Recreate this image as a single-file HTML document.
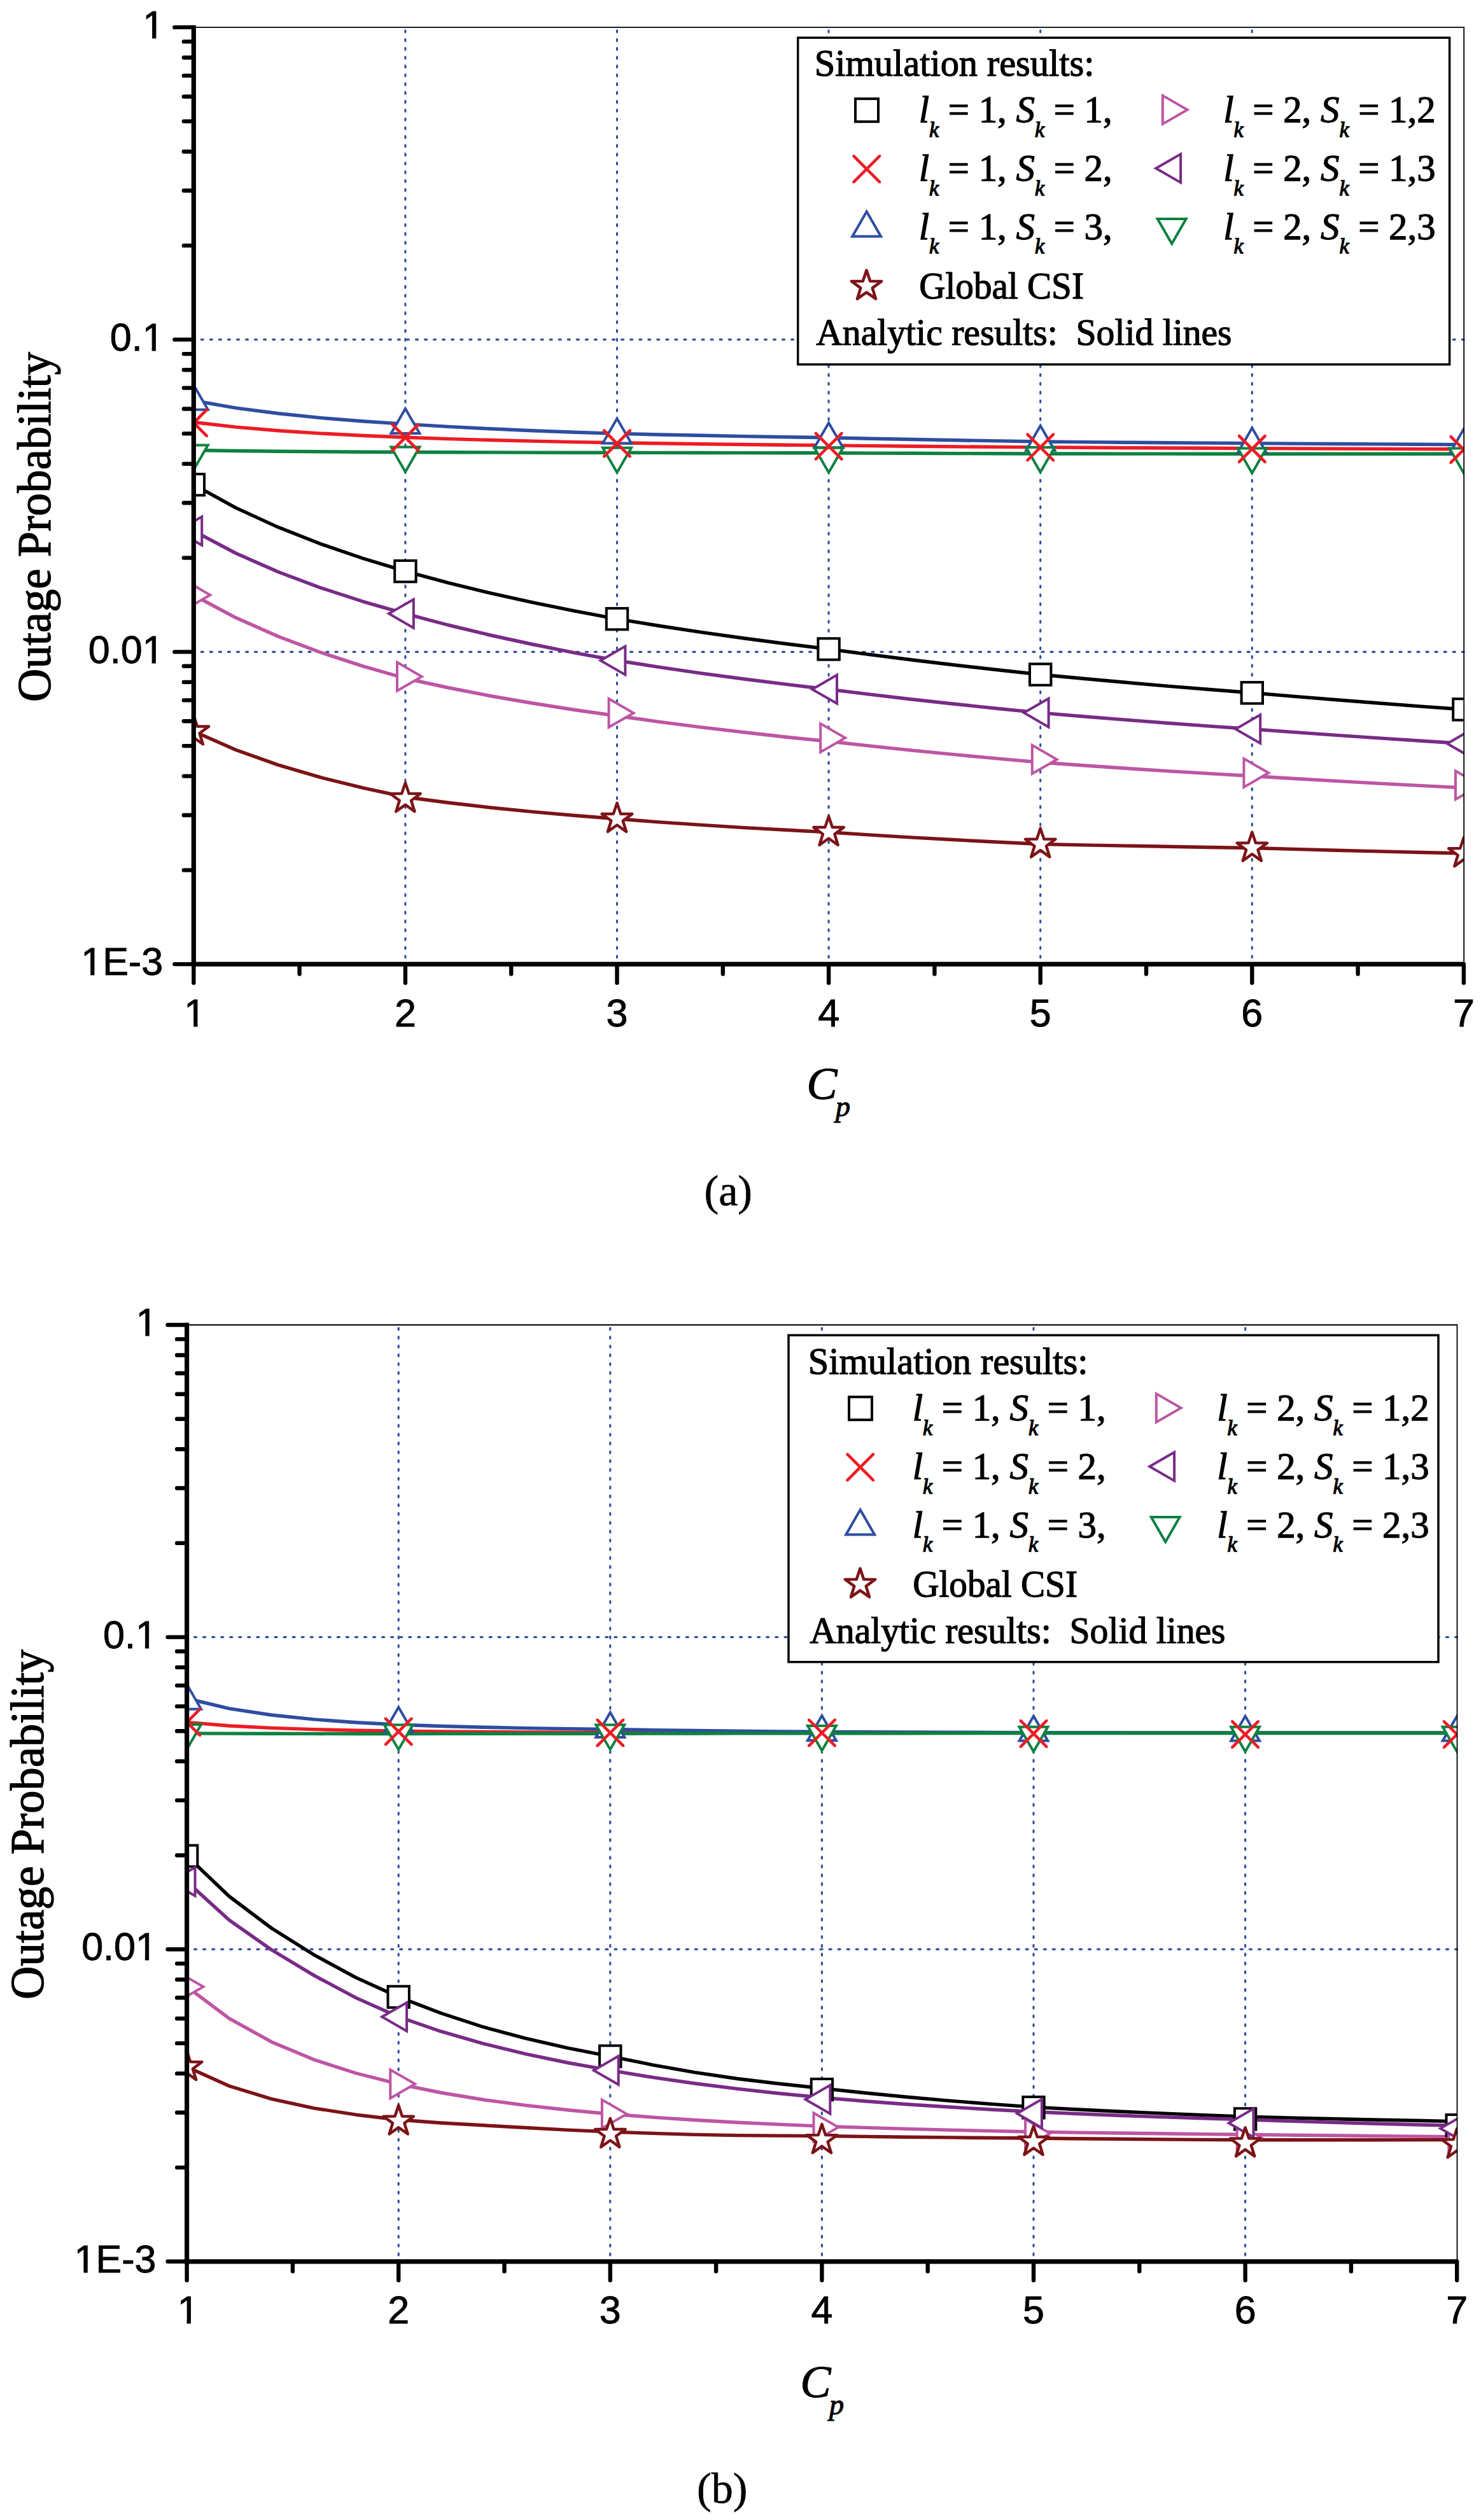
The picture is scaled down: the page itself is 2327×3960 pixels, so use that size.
<!DOCTYPE html>
<html lang="en"><head><meta charset="utf-8"><title>Outage Probability vs Cp</title>
<style>html,body{margin:0;padding:0;background:#fff}svg{display:block}</style></head><body>
<svg width="2327" height="3960" viewBox="0 0 2327 3960">
<rect width="2327" height="3960" fill="#fff"/>
<clipPath id="clip0"><rect x="304.3" y="42.9" width="1995.9" height="1472.2"/></clipPath>
<g stroke="#2e4da1" stroke-width="3.1" fill="none" stroke-linecap="round" stroke-dasharray="2.9 10.95">
<path d="M636.9 47.7V1515.1"/>
<path d="M969.5 47.7V1515.1"/>
<path d="M1302.1 47.7V1515.1"/>
<path d="M1634.7 47.7V1515.1"/>
<path d="M1967.3 47.7V1515.1"/>
</g>
<g stroke="#2e4da1" stroke-width="3.3" fill="none" stroke-linecap="round" stroke-dasharray="2.9 11.15">
<path d="M316.3 533.6H2300.2"/>
<path d="M316.3 1024.4H2300.2"/>
</g>
<g clip-path="url(#clip0)" fill="none" stroke-width="5.4" stroke-linejoin="round">
<path d="M304.3 761.6L370.8 798.1L437.3 828.6L503.9 854.7L570.4 877.5L636.9 897.7L703.4 915.7L769.9 931.9L836.5 946.6L903.0 960.1L969.5 972.6L1036.0 983.5L1102.5 993.6L1169.1 1003.0L1235.6 1011.8L1302.1 1020.0L1368.6 1028.9L1435.1 1037.3L1501.7 1045.2L1568.2 1052.8L1634.7 1060.0L1701.2 1066.3L1767.7 1072.3L1834.3 1078.1L1900.8 1083.5L1967.3 1088.8L2033.8 1094.4L2100.3 1099.8L2166.9 1105.0L2233.4 1110.1L2299.9 1114.9" stroke="#000000"/>
<path d="M304.3 663.5L370.8 671.1L437.3 676.8L503.9 681.1L570.4 684.5L636.9 687.3L703.4 689.6L769.9 691.5L836.5 693.1L903.0 694.6L969.5 695.8L1036.0 696.8L1102.5 697.7L1169.1 698.5L1235.6 699.2L1302.1 699.9L1368.6 700.6L1435.1 701.3L1501.7 701.9L1568.2 702.4L1634.7 702.9L1701.2 703.3L1767.7 703.7L1834.3 704.0L1900.8 704.3L1967.3 704.6L2033.8 704.9L2100.3 705.1L2166.9 705.4L2233.4 705.6L2299.9 705.8" stroke="#ec1c24"/>
<path d="M304.3 629.5L370.8 641.1L437.3 649.8L503.9 656.6L570.4 662.0L636.9 666.4L703.4 670.4L769.9 673.8L836.5 676.7L903.0 679.2L969.5 681.4L1036.0 683.0L1102.5 684.3L1169.1 685.6L1235.6 686.7L1302.1 687.7L1368.6 689.2L1435.1 690.5L1501.7 691.8L1568.2 692.9L1634.7 694.0L1701.2 694.6L1767.7 695.2L1834.3 695.7L1900.8 696.1L1967.3 696.6L2033.8 697.1L2100.3 697.5L2166.9 697.9L2233.4 698.3L2299.9 698.7" stroke="#2e4da1"/>
<path d="M304.3 935.5L370.8 970.8L437.3 1000.2L503.9 1025.2L570.4 1046.9L636.9 1066.0L703.4 1080.5L769.9 1093.5L836.5 1105.0L903.0 1115.5L969.5 1125.0L1036.0 1134.3L1102.5 1142.9L1169.1 1150.8L1235.6 1158.2L1302.1 1165.0L1368.6 1172.4L1435.1 1179.4L1501.7 1185.9L1568.2 1192.1L1634.7 1198.0L1701.2 1202.8L1767.7 1207.3L1834.3 1211.6L1900.8 1215.6L1967.3 1219.5L2033.8 1223.5L2100.3 1227.4L2166.9 1231.1L2233.4 1234.6L2299.9 1238.0" stroke="#bd56a3"/>
<path d="M304.3 834.3L370.8 869.5L437.3 898.7L503.9 923.7L570.4 945.3L636.9 964.3L703.4 982.0L769.9 998.0L836.5 1012.5L903.0 1025.8L969.5 1038.0L1036.0 1048.4L1102.5 1058.1L1169.1 1067.0L1235.6 1075.4L1302.1 1083.2L1368.6 1091.4L1435.1 1099.2L1501.7 1106.5L1568.2 1113.5L1634.7 1120.1L1701.2 1125.7L1767.7 1131.1L1834.3 1136.2L1900.8 1141.1L1967.3 1145.7L2033.8 1150.6L2100.3 1155.4L2166.9 1159.9L2233.4 1164.3L2299.9 1168.5" stroke="#782b86"/>
<path d="M304.3 707.5L370.8 708.5L437.3 709.2L503.9 709.7L570.4 710.2L636.9 710.5L703.4 710.7L769.9 710.9L836.5 711.1L903.0 711.2L969.5 711.3L1036.0 711.4L1102.5 711.5L1169.1 711.6L1235.6 711.7L1302.1 711.8L1368.6 712.1L1435.1 712.3L1501.7 712.6L1568.2 712.8L1634.7 713.0L1701.2 713.0L1767.7 713.1L1834.3 713.1L1900.8 713.2L1967.3 713.2L2033.8 713.2L2100.3 713.2L2166.9 713.2L2233.4 713.2L2299.9 713.2" stroke="#0d8140"/>
<path d="M304.3 1149.3L370.8 1178.5L437.3 1202.1L503.9 1221.7L570.4 1238.2L636.9 1252.5L703.4 1261.3L769.9 1269.0L836.5 1275.6L903.0 1281.5L969.5 1286.8L1036.0 1291.9L1102.5 1296.4L1169.1 1300.6L1235.6 1304.3L1302.1 1307.8L1368.6 1312.1L1435.1 1316.1L1501.7 1319.8L1568.2 1323.3L1634.7 1326.5L1701.2 1327.9L1767.7 1329.1L1834.3 1330.3L1900.8 1331.5L1967.3 1332.5L2033.8 1334.4L2100.3 1336.2L2166.9 1337.9L2233.4 1339.5L2299.9 1341.0" stroke="#7c1317"/>
</g>
<g clip-path="url(#clip0)">
<rect x="287.6" y="744.9" width="33.4" height="33.4" stroke="#000000" stroke-width="4.0" fill="#fff"/>
<rect x="620.2" y="881.0" width="33.4" height="33.4" stroke="#000000" stroke-width="4.0" fill="#fff"/>
<rect x="952.8" y="955.9" width="33.4" height="33.4" stroke="#000000" stroke-width="4.0" fill="#fff"/>
<rect x="1285.4" y="1003.3" width="33.4" height="33.4" stroke="#000000" stroke-width="4.0" fill="#fff"/>
<rect x="1618.0" y="1043.3" width="33.4" height="33.4" stroke="#000000" stroke-width="4.0" fill="#fff"/>
<rect x="1950.6" y="1072.1" width="33.4" height="33.4" stroke="#000000" stroke-width="4.0" fill="#fff"/>
<rect x="2283.2" y="1098.2" width="33.4" height="33.4" stroke="#000000" stroke-width="4.0" fill="#fff"/>
<path d="M304.3 604.9L281.9 643.7L326.7 643.7Z" stroke="#2e4da1" stroke-width="4.0" fill="#fff" stroke-linejoin="miter"/>
<path d="M636.9 642.3L614.5 681.1L659.3 681.1Z" stroke="#2e4da1" stroke-width="4.0" fill="#fff" stroke-linejoin="miter"/>
<path d="M969.5 657.8L947.1 696.6L991.9 696.6Z" stroke="#2e4da1" stroke-width="4.0" fill="#fff" stroke-linejoin="miter"/>
<path d="M1302.1 664.4L1279.7 703.2L1324.5 703.2Z" stroke="#2e4da1" stroke-width="4.0" fill="#fff" stroke-linejoin="miter"/>
<path d="M1634.7 669.0L1612.3 707.8L1657.1 707.8Z" stroke="#2e4da1" stroke-width="4.0" fill="#fff" stroke-linejoin="miter"/>
<path d="M1967.3 672.6L1944.9 711.4L1989.7 711.4Z" stroke="#2e4da1" stroke-width="4.0" fill="#fff" stroke-linejoin="miter"/>
<path d="M2299.9 674.2L2277.5 713.0L2322.3 713.0Z" stroke="#2e4da1" stroke-width="4.0" fill="#fff" stroke-linejoin="miter"/>
<path d="M330.2 935.0L291.4 912.6L291.4 957.4Z" stroke="#bd56a3" stroke-width="4.0" fill="#fff" stroke-linejoin="miter"/>
<path d="M662.8 1063.2L624.0 1040.8L624.0 1085.6Z" stroke="#bd56a3" stroke-width="4.0" fill="#fff" stroke-linejoin="miter"/>
<path d="M995.4 1120.4L956.6 1098.0L956.6 1142.8Z" stroke="#bd56a3" stroke-width="4.0" fill="#fff" stroke-linejoin="miter"/>
<path d="M1328.0 1159.5L1289.2 1137.1L1289.2 1181.9Z" stroke="#bd56a3" stroke-width="4.0" fill="#fff" stroke-linejoin="miter"/>
<path d="M1660.6 1193.4L1621.8 1171.0L1621.8 1215.8Z" stroke="#bd56a3" stroke-width="4.0" fill="#fff" stroke-linejoin="miter"/>
<path d="M1993.2 1214.6L1954.4 1192.2L1954.4 1237.0Z" stroke="#bd56a3" stroke-width="4.0" fill="#fff" stroke-linejoin="miter"/>
<path d="M2325.8 1233.8L2287.0 1211.4L2287.0 1256.2Z" stroke="#bd56a3" stroke-width="4.0" fill="#fff" stroke-linejoin="miter"/>
<path d="M278.4 834.3L317.2 811.9L317.2 856.7Z" stroke="#782b86" stroke-width="4.0" fill="#fff" stroke-linejoin="miter"/>
<path d="M611.0 964.3L649.8 941.9L649.8 986.7Z" stroke="#782b86" stroke-width="4.0" fill="#fff" stroke-linejoin="miter"/>
<path d="M943.6 1038.0L982.4 1015.6L982.4 1060.4Z" stroke="#782b86" stroke-width="4.0" fill="#fff" stroke-linejoin="miter"/>
<path d="M1276.2 1083.2L1315.0 1060.8L1315.0 1105.6Z" stroke="#782b86" stroke-width="4.0" fill="#fff" stroke-linejoin="miter"/>
<path d="M1608.8 1120.1L1647.6 1097.7L1647.6 1142.5Z" stroke="#782b86" stroke-width="4.0" fill="#fff" stroke-linejoin="miter"/>
<path d="M1941.4 1145.7L1980.2 1123.3L1980.2 1168.1Z" stroke="#782b86" stroke-width="4.0" fill="#fff" stroke-linejoin="miter"/>
<path d="M2274.0 1168.5L2312.8 1146.1L2312.8 1190.9Z" stroke="#782b86" stroke-width="4.0" fill="#fff" stroke-linejoin="miter"/>
<path d="M304.3 738.2L281.9 699.4L326.7 699.4Z" stroke="#0d8140" stroke-width="4.0" fill="#fff" stroke-linejoin="miter"/>
<path d="M636.9 741.4L614.5 702.6L659.3 702.6Z" stroke="#0d8140" stroke-width="4.0" fill="#fff" stroke-linejoin="miter"/>
<path d="M969.5 742.5L947.1 703.7L991.9 703.7Z" stroke="#0d8140" stroke-width="4.0" fill="#fff" stroke-linejoin="miter"/>
<path d="M1302.1 742.5L1279.7 703.7L1324.5 703.7Z" stroke="#0d8140" stroke-width="4.0" fill="#fff" stroke-linejoin="miter"/>
<path d="M1634.7 741.9L1612.3 703.1L1657.1 703.1Z" stroke="#0d8140" stroke-width="4.0" fill="#fff" stroke-linejoin="miter"/>
<path d="M1967.3 743.4L1944.9 704.6L1989.7 704.6Z" stroke="#0d8140" stroke-width="4.0" fill="#fff" stroke-linejoin="miter"/>
<path d="M2299.9 743.4L2277.5 704.6L2322.3 704.6Z" stroke="#0d8140" stroke-width="4.0" fill="#fff" stroke-linejoin="miter"/>
<path d="M281.9 642.1L285.2 642.1L326.7 683.5L326.7 686.9L323.4 686.9L281.9 645.5ZM281.9 683.5L323.4 642.1L326.7 642.1L326.7 645.5L285.2 686.9L281.9 686.9Z" fill="#ec1c24"/>
<path d="M614.6 665.1L617.9 665.1L659.3 706.5L659.3 709.9L656.0 709.9L614.6 668.5ZM614.6 706.5L656.0 665.1L659.3 665.1L659.3 668.5L617.9 709.9L614.6 709.9Z" fill="#ec1c24"/>
<path d="M947.1 674.5L950.5 674.5L991.9 715.9L991.9 719.2L988.5 719.2L947.1 677.9ZM947.1 715.9L988.5 674.5L991.9 674.5L991.9 677.9L950.5 719.2L947.1 719.2Z" fill="#ec1c24"/>
<path d="M1279.8 678.9L1283.1 678.9L1324.5 720.3L1324.5 723.6L1321.2 723.6L1279.8 682.2ZM1279.8 720.3L1321.2 678.9L1324.5 678.9L1324.5 682.2L1283.1 723.6L1279.8 723.6Z" fill="#ec1c24"/>
<path d="M1612.4 680.5L1615.7 680.5L1657.0 721.9L1657.0 725.2L1653.8 725.2L1612.4 683.9ZM1612.4 721.9L1653.8 680.5L1657.0 680.5L1657.0 683.9L1615.7 725.2L1612.4 725.2Z" fill="#ec1c24"/>
<path d="M1945.0 683.1L1948.2 683.1L1989.6 724.5L1989.6 727.9L1986.3 727.9L1945.0 686.5ZM1945.0 724.5L1986.3 683.1L1989.6 683.1L1989.6 686.5L1948.2 727.9L1945.0 727.9Z" fill="#ec1c24"/>
<path d="M2277.6 684.1L2280.8 684.1L2322.2 725.5L2322.2 728.9L2319.0 728.9L2277.6 687.5ZM2277.6 725.5L2319.0 684.1L2322.2 684.1L2322.2 687.5L2280.8 728.9L2277.6 728.9Z" fill="#ec1c24"/>
<path d="M304.3 1124.4L310.0 1141.4L328.0 1141.6L313.5 1152.3L318.9 1169.4L304.3 1159.0L289.7 1169.4L295.1 1152.3L280.6 1141.6L298.6 1141.4Z" stroke="#7c1317" stroke-width="4.5" fill="#fff" stroke-linejoin="round"/>
<path d="M636.9 1230.1L642.6 1247.1L660.6 1247.3L646.1 1258.0L651.5 1275.1L636.9 1264.7L622.3 1275.1L627.7 1258.0L613.2 1247.3L631.2 1247.1Z" stroke="#7c1317" stroke-width="4.5" fill="#fff" stroke-linejoin="round"/>
<path d="M969.5 1261.9L975.2 1278.9L993.2 1279.1L978.7 1289.8L984.1 1306.9L969.5 1296.5L954.9 1306.9L960.3 1289.8L945.8 1279.1L963.8 1278.9Z" stroke="#7c1317" stroke-width="4.5" fill="#fff" stroke-linejoin="round"/>
<path d="M1302.1 1282.9L1307.8 1299.9L1325.8 1300.1L1311.3 1310.8L1316.7 1327.9L1302.1 1317.5L1287.5 1327.9L1292.9 1310.8L1278.4 1300.1L1296.4 1299.9Z" stroke="#7c1317" stroke-width="4.5" fill="#fff" stroke-linejoin="round"/>
<path d="M1634.7 1301.6L1640.4 1318.6L1658.4 1318.8L1643.9 1329.5L1649.3 1346.6L1634.7 1336.2L1620.1 1346.6L1625.5 1329.5L1611.0 1318.8L1629.0 1318.6Z" stroke="#7c1317" stroke-width="4.5" fill="#fff" stroke-linejoin="round"/>
<path d="M1967.3 1307.6L1973.0 1324.6L1991.0 1324.8L1976.5 1335.5L1981.9 1352.6L1967.3 1342.2L1952.7 1352.6L1958.1 1335.5L1943.6 1324.8L1961.6 1324.6Z" stroke="#7c1317" stroke-width="4.5" fill="#fff" stroke-linejoin="round"/>
<path d="M2299.9 1316.1L2305.6 1333.1L2323.6 1333.3L2309.1 1344.0L2314.5 1361.1L2299.9 1350.7L2285.3 1361.1L2290.7 1344.0L2276.2 1333.3L2294.2 1333.1Z" stroke="#7c1317" stroke-width="4.5" fill="#fff" stroke-linejoin="round"/>
</g>
<path d="M304.3 42.9H2300.2V1515.1" stroke="#000" stroke-width="1.8" fill="none"/>
<g stroke="#000" stroke-width="7.2" fill="none" stroke-linecap="butt">
<path d="M304.3 39.7V1518.7"/>
<path d="M300.7 1515.1H2301.0"/>
</g>
<g stroke="#000" stroke-width="6.4" fill="none" stroke-linecap="round">
<path d="M274.3 42.9H304.3"/>
<path d="M288.8 385.9H304.3"/>
<path d="M288.8 299.5H304.3"/>
<path d="M288.8 238.2H304.3"/>
<path d="M288.8 190.6H304.3"/>
<path d="M288.8 151.8H304.3"/>
<path d="M288.8 118.9H304.3"/>
<path d="M288.8 90.5H304.3"/>
<path d="M288.8 65.4H304.3"/>
<path d="M274.3 533.6H304.3"/>
<path d="M288.8 876.6H304.3"/>
<path d="M288.8 790.2H304.3"/>
<path d="M288.8 728.9H304.3"/>
<path d="M288.8 681.4H304.3"/>
<path d="M288.8 642.5H304.3"/>
<path d="M288.8 609.6H304.3"/>
<path d="M288.8 581.2H304.3"/>
<path d="M288.8 556.1H304.3"/>
<path d="M274.3 1024.4H304.3"/>
<path d="M288.8 1367.4H304.3"/>
<path d="M288.8 1281.0H304.3"/>
<path d="M288.8 1219.6H304.3"/>
<path d="M288.8 1172.1H304.3"/>
<path d="M288.8 1133.2H304.3"/>
<path d="M288.8 1100.4H304.3"/>
<path d="M288.8 1071.9H304.3"/>
<path d="M288.8 1046.8H304.3"/>
<path d="M274.3 1515.1H304.3"/>
<path d="M304.3 1515.1V1544.6"/>
<path d="M470.6 1515.1V1530.6"/>
<path d="M636.9 1515.1V1544.6"/>
<path d="M803.2 1515.1V1530.6"/>
<path d="M969.5 1515.1V1544.6"/>
<path d="M1135.8 1515.1V1530.6"/>
<path d="M1302.1 1515.1V1544.6"/>
<path d="M1468.4 1515.1V1530.6"/>
<path d="M1634.7 1515.1V1544.6"/>
<path d="M1801.0 1515.1V1530.6"/>
<path d="M1967.3 1515.1V1544.6"/>
<path d="M2133.6 1515.1V1530.6"/>
<path d="M2299.9 1515.1V1544.6"/>
</g>
<g font-family="'Liberation Sans', sans-serif" font-size="61" fill="#000" stroke="#000" stroke-width="0.9">
<text x="258.1" y="60.1" text-anchor="end">1</text>
<text x="257.6" y="550.8" text-anchor="end">0.1</text>
<text x="257.6" y="1041.6" text-anchor="end">0.01</text>
<text x="256.1" y="1532.3" text-anchor="end">1E-3</text>
<text x="306.3" y="1612.5" text-anchor="middle">1</text>
<text x="636.9" y="1612.5" text-anchor="middle">2</text>
<text x="969.5" y="1612.5" text-anchor="middle">3</text>
<text x="1302.1" y="1612.5" text-anchor="middle">4</text>
<text x="1634.7" y="1612.5" text-anchor="middle">5</text>
<text x="1967.3" y="1612.5" text-anchor="middle">6</text>
<text x="2299.9" y="1612.5" text-anchor="middle">7</text>
</g>
<g fill="#fff"><rect x="227.02" y="54.69" width="12.04" height="7.46"/><rect x="245.36" y="54.69" width="11.57" height="7.46"/><rect x="226.52" y="545.43" width="12.04" height="7.46"/><rect x="244.86" y="545.43" width="11.57" height="7.46"/><rect x="226.52" y="1036.16" width="12.04" height="7.46"/><rect x="244.86" y="1036.16" width="11.57" height="7.46"/><rect x="130.10" y="1526.89" width="12.04" height="7.46"/><rect x="148.43" y="1526.89" width="11.57" height="7.46"/><rect x="292.18" y="1607.09" width="12.04" height="7.46"/><rect x="310.52" y="1607.09" width="11.57" height="7.46"/></g>
<text transform="translate(78.5 828.0) rotate(-90)" text-anchor="middle" font-family="'Liberation Serif', serif" font-size="75" stroke="#000" stroke-width="1.3" textLength="550" lengthAdjust="spacingAndGlyphs">Outage Probability</text>
<text x="1267.5" y="1726.5" font-family="'Liberation Serif', serif" font-style="italic" font-size="72" stroke="#000" stroke-width="1.1">C<tspan font-size="46" dx="-2.5" dy="27.8">p</tspan></text>
<text x="1106.5" y="1894" font-family="'Liberation Serif', serif" font-size="68" stroke="#000" stroke-width="0.7">(a)</text>
<rect x="1253.7" y="59.3" width="1023.9" height="513.4" fill="#fff" stroke="#000" stroke-width="3.5"/>
<g font-family="'Liberation Serif', serif" font-size="60" fill="#000" stroke="#000" stroke-width="1.25">
<text transform="translate(1279.7 118.8) scale(0.9738 1)">Simulation results:</text>
<text transform="translate(1443.7 192.2) scale(0.9806 1)"><tspan font-style="italic">l</tspan><tspan font-style="italic" font-size="34.5" dy="22.3">k</tspan><tspan dy="-22.3"> = 1, </tspan><tspan font-style="italic">S</tspan><tspan font-style="italic" font-size="34.5" dy="22.3">k</tspan><tspan dy="-22.3"> = 1,</tspan></text>
<text transform="translate(1443.7 284.2) scale(0.9806 1)"><tspan font-style="italic">l</tspan><tspan font-style="italic" font-size="34.5" dy="22.3">k</tspan><tspan dy="-22.3"> = 1, </tspan><tspan font-style="italic">S</tspan><tspan font-style="italic" font-size="34.5" dy="22.3">k</tspan><tspan dy="-22.3"> = 2,</tspan></text>
<text transform="translate(1443.7 376.0) scale(0.9806 1)"><tspan font-style="italic">l</tspan><tspan font-style="italic" font-size="34.5" dy="22.3">k</tspan><tspan dy="-22.3"> = 1, </tspan><tspan font-style="italic">S</tspan><tspan font-style="italic" font-size="34.5" dy="22.3">k</tspan><tspan dy="-22.3"> = 3,</tspan></text>
<text transform="translate(1922.2 192.2) scale(0.9806 1)"><tspan font-style="italic">l</tspan><tspan font-style="italic" font-size="34.5" dy="22.3">k</tspan><tspan dy="-22.3"> = 2, </tspan><tspan font-style="italic">S</tspan><tspan font-style="italic" font-size="34.5" dy="22.3">k</tspan><tspan dy="-22.3"> = 1,2</tspan></text>
<text transform="translate(1922.2 284.2) scale(0.9806 1)"><tspan font-style="italic">l</tspan><tspan font-style="italic" font-size="34.5" dy="22.3">k</tspan><tspan dy="-22.3"> = 2, </tspan><tspan font-style="italic">S</tspan><tspan font-style="italic" font-size="34.5" dy="22.3">k</tspan><tspan dy="-22.3"> = 1,3</tspan></text>
<text transform="translate(1922.2 376.0) scale(0.9806 1)"><tspan font-style="italic">l</tspan><tspan font-style="italic" font-size="34.5" dy="22.3">k</tspan><tspan dy="-22.3"> = 2, </tspan><tspan font-style="italic">S</tspan><tspan font-style="italic" font-size="34.5" dy="22.3">k</tspan><tspan dy="-22.3"> = 2,3</tspan></text>
<text transform="translate(1444.2 469.0) scale(0.9525 1)">Global CSI</text>
<text transform="translate(1282.2 541.8) scale(0.9612 1)" xml:space="preserve" style="white-space:pre">Analytic results:  Solid lines</text>
</g>
<rect x="1344.0" y="155.2" width="36.0" height="36.0" stroke="#000000" stroke-width="4.0" fill="#fff"/>
<path d="M1339.4 243.3L1342.7 243.3L1384.0 284.7L1384.0 288.0L1380.8 288.0L1339.4 246.6ZM1339.4 284.7L1380.8 243.3L1384.0 243.3L1384.0 246.6L1342.7 288.0L1339.4 288.0Z" fill="#ec1c24"/>
<path d="M1361.7 332.6L1339.3 371.4L1384.1 371.4Z" stroke="#2e4da1" stroke-width="4.0" fill="#fff" stroke-linejoin="miter"/>
<path d="M1361.5 424.7L1367.2 441.7L1385.2 441.9L1370.7 452.6L1376.1 469.7L1361.5 459.3L1346.9 469.7L1352.3 452.6L1337.8 441.9L1355.8 441.7Z" stroke="#7c1317" stroke-width="4.5" fill="#fff" stroke-linejoin="round"/>
<path d="M1865.6 172.5L1826.8 150.1L1826.8 194.9Z" stroke="#bd56a3" stroke-width="4.0" fill="#fff" stroke-linejoin="miter"/>
<path d="M1816.3 264.5L1855.1 242.1L1855.1 286.9Z" stroke="#782b86" stroke-width="4.0" fill="#fff" stroke-linejoin="miter"/>
<path d="M1841.2 382.9L1818.8 344.1L1863.6 344.1Z" stroke="#0d8140" stroke-width="4.0" fill="#fff" stroke-linejoin="miter"/>
<clipPath id="clip1"><rect x="293.6" y="2082" width="1995.9" height="1471.8"/></clipPath>
<g stroke="#2e4da1" stroke-width="3.1" fill="none" stroke-linecap="round" stroke-dasharray="2.9 10.95">
<path d="M626.2 2086.8V3553.8"/>
<path d="M958.8 2086.8V3553.8"/>
<path d="M1291.4 2086.8V3553.8"/>
<path d="M1624.0 2086.8V3553.8"/>
<path d="M1956.6 2086.8V3553.8"/>
</g>
<g stroke="#2e4da1" stroke-width="3.3" fill="none" stroke-linecap="round" stroke-dasharray="2.9 11.15">
<path d="M305.6 2572.6H2289.5"/>
<path d="M305.6 3063.2H2289.5"/>
</g>
<g clip-path="url(#clip1)" fill="none" stroke-width="5.4" stroke-linejoin="round">
<path d="M293.6 2916.5L360.1 2980.0L426.6 3030.0L493.2 3071.8L559.7 3107.9L626.2 3138.0L692.7 3163.5L759.2 3185.2L825.8 3203.2L892.3 3218.3L958.8 3231.3L1025.3 3244.8L1091.8 3256.7L1158.4 3266.5L1224.9 3274.5L1291.4 3281.6L1357.9 3288.8L1424.4 3295.3L1491.0 3301.1L1557.5 3306.4L1624.0 3311.1L1690.5 3314.7L1757.0 3318.0L1823.6 3320.9L1890.1 3323.6L1956.6 3326.1L2023.1 3327.9L2089.6 3329.5L2156.2 3331.0L2222.7 3332.3L2289.2 3333.6" stroke="#000000"/>
<path d="M293.6 2706.4L360.1 2712.0L426.6 2715.4L493.2 2717.6L559.7 2719.2L626.2 2720.3L692.7 2721.0L759.2 2721.5L825.8 2721.9L892.3 2722.2L958.8 2722.5L1025.3 2722.6L1091.8 2722.8L1158.4 2722.8L1224.9 2722.9L1291.4 2723.0L1357.9 2723.0L1424.4 2723.0L1491.0 2723.0L1557.5 2723.0L1624.0 2723.0L1690.5 2723.0L1757.0 2723.0L1823.6 2723.0L1890.1 2723.0L1956.6 2723.0L2023.1 2723.0L2089.6 2723.0L2156.2 2723.0L2222.7 2723.0L2289.2 2723.0" stroke="#ec1c24"/>
<path d="M293.6 2669.0L360.1 2684.9L426.6 2695.0L493.2 2701.9L559.7 2706.8L626.2 2710.3L692.7 2712.5L759.2 2714.2L825.8 2715.6L892.3 2716.6L958.8 2717.5L1025.3 2718.6L1091.8 2719.5L1158.4 2720.2L1224.9 2720.9L1291.4 2721.4L1357.9 2721.7L1424.4 2722.0L1491.0 2722.2L1557.5 2722.4L1624.0 2722.6L1690.5 2722.7L1757.0 2722.8L1823.6 2722.9L1890.1 2722.9L1956.6 2723.0L2023.1 2723.0L2089.6 2723.0L2156.2 2723.0L2222.7 2723.0L2289.2 2723.0" stroke="#2e4da1"/>
<path d="M293.6 3122.0L360.1 3171.8L426.6 3208.7L493.2 3236.6L559.7 3258.0L626.2 3274.8L692.7 3288.5L759.2 3299.5L825.8 3308.4L892.3 3315.8L958.8 3322.0L1025.3 3327.1L1091.8 3331.5L1158.4 3335.2L1224.9 3338.4L1291.4 3341.2L1357.9 3343.4L1424.4 3345.4L1491.0 3347.1L1557.5 3348.6L1624.0 3350.0L1690.5 3351.1L1757.0 3352.0L1823.6 3352.8L1890.1 3353.6L1956.6 3354.3L2023.1 3355.1L2089.6 3355.8L2156.2 3356.5L2222.7 3357.1L2289.2 3357.6" stroke="#bd56a3"/>
<path d="M293.6 2956.8L360.1 3017.2L426.6 3064.0L493.2 3104.1L559.7 3139.6L626.2 3169.3L692.7 3192.2L759.2 3211.4L825.8 3227.7L892.3 3241.5L958.8 3253.4L1025.3 3264.4L1091.8 3274.0L1158.4 3282.4L1224.9 3289.7L1291.4 3296.2L1357.9 3301.7L1424.4 3306.7L1491.0 3311.0L1557.5 3315.0L1624.0 3318.5L1690.5 3321.5L1757.0 3324.2L1823.6 3326.6L1890.1 3328.8L1956.6 3330.8L2023.1 3333.0L2089.6 3335.1L2156.2 3337.0L2222.7 3338.7L2289.2 3340.3" stroke="#782b86"/>
<path d="M293.6 2723.9L360.1 2724.1L426.6 2724.3L493.2 2724.4L559.7 2724.5L626.2 2724.5L692.7 2724.4L759.2 2724.3L825.8 2724.3L892.3 2724.2L958.8 2724.2L1025.3 2724.1L1091.8 2724.0L1158.4 2723.9L1224.9 2723.9L1291.4 2723.8L1357.9 2723.7L1424.4 2723.7L1491.0 2723.6L1557.5 2723.5L1624.0 2723.5L1690.5 2723.5L1757.0 2723.5L1823.6 2723.5L1890.1 2723.5L1956.6 2723.5L2023.1 2723.5L2089.6 2723.5L2156.2 2723.5L2222.7 2723.5L2289.2 2723.5" stroke="#0d8140"/>
<path d="M293.6 3248.0L360.1 3278.0L426.6 3298.4L493.2 3312.8L559.7 3323.2L626.2 3331.0L692.7 3336.0L759.2 3339.8L825.8 3343.5L892.3 3347.1L958.8 3350.0L1025.3 3352.4L1091.8 3354.4L1158.4 3355.6L1224.9 3356.1L1291.4 3356.5L1357.9 3357.4L1424.4 3358.2L1491.0 3358.9L1557.5 3359.5L1624.0 3360.0L1690.5 3360.7L1757.0 3361.3L1823.6 3361.9L1890.1 3362.4L1956.6 3362.8L2023.1 3362.8L2089.6 3362.7L2156.2 3362.7L2222.7 3362.6L2289.2 3362.6" stroke="#7c1317"/>
</g>
<g clip-path="url(#clip1)">
<rect x="276.9" y="2899.8" width="33.4" height="33.4" stroke="#000000" stroke-width="4.0" fill="#fff"/>
<rect x="609.5" y="3121.3" width="33.4" height="33.4" stroke="#000000" stroke-width="4.0" fill="#fff"/>
<rect x="942.1" y="3214.6" width="33.4" height="33.4" stroke="#000000" stroke-width="4.0" fill="#fff"/>
<rect x="1274.7" y="3266.9" width="33.4" height="33.4" stroke="#000000" stroke-width="4.0" fill="#fff"/>
<rect x="1607.3" y="3295.1" width="33.4" height="33.4" stroke="#000000" stroke-width="4.0" fill="#fff"/>
<rect x="1939.9" y="3313.2" width="33.4" height="33.4" stroke="#000000" stroke-width="4.0" fill="#fff"/>
<rect x="2272.5" y="3323.1" width="33.4" height="33.4" stroke="#000000" stroke-width="4.0" fill="#fff"/>
<path d="M293.6 2646.9L271.2 2685.7L316.0 2685.7Z" stroke="#2e4da1" stroke-width="4.0" fill="#fff" stroke-linejoin="miter"/>
<path d="M626.2 2682.8L603.8 2721.6L648.6 2721.6Z" stroke="#2e4da1" stroke-width="4.0" fill="#fff" stroke-linejoin="miter"/>
<path d="M958.8 2691.1L936.4 2729.9L981.2 2729.9Z" stroke="#2e4da1" stroke-width="4.0" fill="#fff" stroke-linejoin="miter"/>
<path d="M1291.4 2696.1L1269.0 2734.9L1313.8 2734.9Z" stroke="#2e4da1" stroke-width="4.0" fill="#fff" stroke-linejoin="miter"/>
<path d="M1624.0 2696.8L1601.6 2735.6L1646.4 2735.6Z" stroke="#2e4da1" stroke-width="4.0" fill="#fff" stroke-linejoin="miter"/>
<path d="M1956.6 2696.8L1934.2 2735.6L1979.0 2735.6Z" stroke="#2e4da1" stroke-width="4.0" fill="#fff" stroke-linejoin="miter"/>
<path d="M2289.2 2696.8L2266.8 2735.6L2311.6 2735.6Z" stroke="#2e4da1" stroke-width="4.0" fill="#fff" stroke-linejoin="miter"/>
<path d="M319.5 3122.0L280.7 3099.6L280.7 3144.4Z" stroke="#bd56a3" stroke-width="4.0" fill="#fff" stroke-linejoin="miter"/>
<path d="M652.1 3274.8L613.3 3252.4L613.3 3297.2Z" stroke="#bd56a3" stroke-width="4.0" fill="#fff" stroke-linejoin="miter"/>
<path d="M984.7 3322.0L945.9 3299.6L945.9 3344.4Z" stroke="#bd56a3" stroke-width="4.0" fill="#fff" stroke-linejoin="miter"/>
<path d="M1317.3 3342.8L1278.5 3320.4L1278.5 3365.2Z" stroke="#bd56a3" stroke-width="4.0" fill="#fff" stroke-linejoin="miter"/>
<path d="M1649.9 3352.6L1611.1 3330.2L1611.1 3375.0Z" stroke="#bd56a3" stroke-width="4.0" fill="#fff" stroke-linejoin="miter"/>
<path d="M1982.5 3359.5L1943.7 3337.1L1943.7 3381.9Z" stroke="#bd56a3" stroke-width="4.0" fill="#fff" stroke-linejoin="miter"/>
<path d="M2315.1 3361.0L2276.3 3338.6L2276.3 3383.4Z" stroke="#bd56a3" stroke-width="4.0" fill="#fff" stroke-linejoin="miter"/>
<path d="M267.7 2956.8L306.5 2934.4L306.5 2979.2Z" stroke="#782b86" stroke-width="4.0" fill="#fff" stroke-linejoin="miter"/>
<path d="M600.3 3169.3L639.1 3146.9L639.1 3191.7Z" stroke="#782b86" stroke-width="4.0" fill="#fff" stroke-linejoin="miter"/>
<path d="M932.9 3253.4L971.7 3231.0L971.7 3275.8Z" stroke="#782b86" stroke-width="4.0" fill="#fff" stroke-linejoin="miter"/>
<path d="M1265.5 3299.1L1304.3 3276.7L1304.3 3321.5Z" stroke="#782b86" stroke-width="4.0" fill="#fff" stroke-linejoin="miter"/>
<path d="M1598.1 3321.3L1636.9 3298.9L1636.9 3343.7Z" stroke="#782b86" stroke-width="4.0" fill="#fff" stroke-linejoin="miter"/>
<path d="M1930.7 3336.2L1969.5 3313.8L1969.5 3358.6Z" stroke="#782b86" stroke-width="4.0" fill="#fff" stroke-linejoin="miter"/>
<path d="M2263.3 3344.7L2302.1 3322.3L2302.1 3367.1Z" stroke="#782b86" stroke-width="4.0" fill="#fff" stroke-linejoin="miter"/>
<path d="M293.6 2748.7L271.2 2709.9L316.0 2709.9Z" stroke="#0d8140" stroke-width="4.0" fill="#fff" stroke-linejoin="miter"/>
<path d="M626.2 2749.3L603.8 2710.5L648.6 2710.5Z" stroke="#0d8140" stroke-width="4.0" fill="#fff" stroke-linejoin="miter"/>
<path d="M958.8 2749.3L936.4 2710.5L981.2 2710.5Z" stroke="#0d8140" stroke-width="4.0" fill="#fff" stroke-linejoin="miter"/>
<path d="M1291.4 2750.9L1269.0 2712.1L1313.8 2712.1Z" stroke="#0d8140" stroke-width="4.0" fill="#fff" stroke-linejoin="miter"/>
<path d="M1624.0 2752.6L1601.6 2713.8L1646.4 2713.8Z" stroke="#0d8140" stroke-width="4.0" fill="#fff" stroke-linejoin="miter"/>
<path d="M1956.6 2752.6L1934.2 2713.8L1979.0 2713.8Z" stroke="#0d8140" stroke-width="4.0" fill="#fff" stroke-linejoin="miter"/>
<path d="M2289.2 2752.6L2266.8 2713.8L2311.6 2713.8Z" stroke="#0d8140" stroke-width="4.0" fill="#fff" stroke-linejoin="miter"/>
<path d="M271.2 2684.1L274.6 2684.1L316.0 2725.5L316.0 2728.8L312.7 2728.8L271.2 2687.3ZM271.2 2725.5L312.7 2684.1L316.0 2684.1L316.0 2687.3L274.6 2728.8L271.2 2728.8Z" fill="#ec1c24"/>
<path d="M603.9 2698.7L607.2 2698.7L648.6 2740.1L648.6 2743.3L645.2 2743.3L603.9 2701.9ZM603.9 2740.1L645.2 2698.7L648.6 2698.7L648.6 2701.9L607.2 2743.3L603.9 2743.3Z" fill="#ec1c24"/>
<path d="M936.5 2700.7L939.8 2700.7L981.2 2742.1L981.2 2745.3L977.9 2745.3L936.5 2703.9ZM936.5 2742.1L977.9 2700.7L981.2 2700.7L981.2 2703.9L939.8 2745.3L936.5 2745.3Z" fill="#ec1c24"/>
<path d="M1269.1 2700.7L1272.4 2700.7L1313.8 2742.1L1313.8 2745.3L1310.5 2745.3L1269.1 2703.9ZM1269.1 2742.1L1310.5 2700.7L1313.8 2700.7L1313.8 2703.9L1272.4 2745.3L1269.1 2745.3Z" fill="#ec1c24"/>
<path d="M1601.7 2702.1L1605.0 2702.1L1646.3 2743.5L1646.3 2746.8L1643.0 2746.8L1601.7 2705.3ZM1601.7 2743.5L1643.0 2702.1L1646.3 2702.1L1646.3 2705.3L1605.0 2746.8L1601.7 2746.8Z" fill="#ec1c24"/>
<path d="M1934.2 2703.2L1937.5 2703.2L1978.9 2744.6L1978.9 2747.8L1975.6 2747.8L1934.2 2706.4ZM1934.2 2744.6L1975.6 2703.2L1978.9 2703.2L1978.9 2706.4L1937.5 2747.8L1934.2 2747.8Z" fill="#ec1c24"/>
<path d="M2266.9 2703.2L2270.2 2703.2L2311.6 2744.6L2311.6 2747.8L2308.3 2747.8L2266.9 2706.4ZM2266.9 2744.6L2308.3 2703.2L2311.6 2703.2L2311.6 2706.4L2270.2 2747.8L2266.9 2747.8Z" fill="#ec1c24"/>
<path d="M293.6 3223.1L299.3 3240.1L317.3 3240.3L302.8 3251.0L308.2 3268.1L293.6 3257.7L279.0 3268.1L284.4 3251.0L269.9 3240.3L287.9 3240.1Z" stroke="#7c1317" stroke-width="4.5" fill="#fff" stroke-linejoin="round"/>
<path d="M626.2 3308.5L631.9 3325.5L649.9 3325.7L635.4 3336.4L640.8 3353.5L626.2 3343.1L611.6 3353.5L617.0 3336.4L602.5 3325.7L620.5 3325.5Z" stroke="#7c1317" stroke-width="4.5" fill="#fff" stroke-linejoin="round"/>
<path d="M958.8 3328.9L964.5 3345.9L982.5 3346.1L968.0 3356.8L973.4 3373.9L958.8 3363.5L944.2 3373.9L949.6 3356.8L935.1 3346.1L953.1 3345.9Z" stroke="#7c1317" stroke-width="4.5" fill="#fff" stroke-linejoin="round"/>
<path d="M1291.4 3338.0L1297.1 3355.0L1315.1 3355.2L1300.6 3365.9L1306.0 3383.0L1291.4 3372.6L1276.8 3383.0L1282.2 3365.9L1267.7 3355.2L1285.7 3355.0Z" stroke="#7c1317" stroke-width="4.5" fill="#fff" stroke-linejoin="round"/>
<path d="M1624.0 3340.9L1629.7 3357.9L1647.7 3358.1L1633.2 3368.8L1638.6 3385.9L1624.0 3375.5L1609.4 3385.9L1614.8 3368.8L1600.3 3358.1L1618.3 3357.9Z" stroke="#7c1317" stroke-width="4.5" fill="#fff" stroke-linejoin="round"/>
<path d="M1956.6 3343.3L1962.3 3360.3L1980.3 3360.5L1965.8 3371.2L1971.2 3388.3L1956.6 3377.9L1942.0 3388.3L1947.4 3371.2L1932.9 3360.5L1950.9 3360.3Z" stroke="#7c1317" stroke-width="4.5" fill="#fff" stroke-linejoin="round"/>
<path d="M2289.2 3345.0L2294.9 3362.0L2312.9 3362.2L2298.4 3372.9L2303.8 3390.0L2289.2 3379.6L2274.6 3390.0L2280.0 3372.9L2265.5 3362.2L2283.5 3362.0Z" stroke="#7c1317" stroke-width="4.5" fill="#fff" stroke-linejoin="round"/>
</g>
<path d="M293.6 2082.0H2289.5V3553.8" stroke="#000" stroke-width="1.8" fill="none"/>
<g stroke="#000" stroke-width="7.2" fill="none" stroke-linecap="butt">
<path d="M293.6 2078.8V3557.4"/>
<path d="M290.0 3553.8H2290.3"/>
</g>
<g stroke="#000" stroke-width="6.4" fill="none" stroke-linecap="round">
<path d="M263.6 2082.0H293.6"/>
<path d="M278.1 2424.9H293.6"/>
<path d="M278.1 2338.5H293.6"/>
<path d="M278.1 2277.2H293.6"/>
<path d="M278.1 2229.7H293.6"/>
<path d="M278.1 2190.8H293.6"/>
<path d="M278.1 2158.0H293.6"/>
<path d="M278.1 2129.5H293.6"/>
<path d="M278.1 2104.4H293.6"/>
<path d="M263.6 2572.6H293.6"/>
<path d="M278.1 2915.5H293.6"/>
<path d="M278.1 2829.1H293.6"/>
<path d="M278.1 2767.8H293.6"/>
<path d="M278.1 2720.3H293.6"/>
<path d="M278.1 2681.4H293.6"/>
<path d="M278.1 2648.6H293.6"/>
<path d="M278.1 2620.1H293.6"/>
<path d="M278.1 2595.0H293.6"/>
<path d="M263.6 3063.2H293.6"/>
<path d="M278.1 3406.1H293.6"/>
<path d="M278.1 3319.7H293.6"/>
<path d="M278.1 3258.4H293.6"/>
<path d="M278.1 3210.9H293.6"/>
<path d="M278.1 3172.0H293.6"/>
<path d="M278.1 3139.2H293.6"/>
<path d="M278.1 3110.7H293.6"/>
<path d="M278.1 3085.6H293.6"/>
<path d="M263.6 3553.8H293.6"/>
<path d="M293.6 3553.8V3583.3"/>
<path d="M459.9 3553.8V3569.3"/>
<path d="M626.2 3553.8V3583.3"/>
<path d="M792.5 3553.8V3569.3"/>
<path d="M958.8 3553.8V3583.3"/>
<path d="M1125.1 3553.8V3569.3"/>
<path d="M1291.4 3553.8V3583.3"/>
<path d="M1457.7 3553.8V3569.3"/>
<path d="M1624.0 3553.8V3583.3"/>
<path d="M1790.3 3553.8V3569.3"/>
<path d="M1956.6 3553.8V3583.3"/>
<path d="M2122.9 3553.8V3569.3"/>
<path d="M2289.2 3553.8V3583.3"/>
</g>
<g font-family="'Liberation Sans', sans-serif" font-size="61" fill="#000" stroke="#000" stroke-width="0.9">
<text x="247.4" y="2099.2" text-anchor="end">1</text>
<text x="246.9" y="2589.8" text-anchor="end">0.1</text>
<text x="246.9" y="3080.4" text-anchor="end">0.01</text>
<text x="245.4" y="3571.0" text-anchor="end">1E-3</text>
<text x="295.6" y="3651.2" text-anchor="middle">1</text>
<text x="626.2" y="3651.2" text-anchor="middle">2</text>
<text x="958.8" y="3651.2" text-anchor="middle">3</text>
<text x="1291.4" y="3651.2" text-anchor="middle">4</text>
<text x="1624.0" y="3651.2" text-anchor="middle">5</text>
<text x="1956.6" y="3651.2" text-anchor="middle">6</text>
<text x="2289.2" y="3651.2" text-anchor="middle">7</text>
</g>
<g fill="#fff"><rect x="216.32" y="2093.79" width="12.04" height="7.46"/><rect x="234.66" y="2093.79" width="11.57" height="7.46"/><rect x="215.82" y="2584.39" width="12.04" height="7.46"/><rect x="234.16" y="2584.39" width="11.57" height="7.46"/><rect x="215.82" y="3074.99" width="12.04" height="7.46"/><rect x="234.16" y="3074.99" width="11.57" height="7.46"/><rect x="119.40" y="3565.59" width="12.04" height="7.46"/><rect x="137.73" y="3565.59" width="11.57" height="7.46"/><rect x="281.48" y="3645.79" width="12.04" height="7.46"/><rect x="299.82" y="3645.79" width="11.57" height="7.46"/></g>
<text transform="translate(67.8 2866.9) rotate(-90)" text-anchor="middle" font-family="'Liberation Serif', serif" font-size="75" stroke="#000" stroke-width="1.3" textLength="550" lengthAdjust="spacingAndGlyphs">Outage Probability</text>
<text x="1257.5" y="3766.5" font-family="'Liberation Serif', serif" font-style="italic" font-size="72" stroke="#000" stroke-width="1.1">C<tspan font-size="46" dx="-2.5" dy="27.8">p</tspan></text>
<text x="1095" y="3933" font-family="'Liberation Serif', serif" font-size="68" stroke="#000" stroke-width="0.7">(b)</text>
<rect x="1239" y="2098.2" width="1021.0" height="513.5" fill="#fff" stroke="#000" stroke-width="3.5"/>
<g font-family="'Liberation Serif', serif" font-size="60" fill="#000" stroke="#000" stroke-width="1.25">
<text transform="translate(1269.7 2158.8) scale(0.9738 1)">Simulation results:</text>
<text transform="translate(1433.7 2232.2) scale(0.9806 1)"><tspan font-style="italic">l</tspan><tspan font-style="italic" font-size="34.5" dy="22.3">k</tspan><tspan dy="-22.3"> = 1, </tspan><tspan font-style="italic">S</tspan><tspan font-style="italic" font-size="34.5" dy="22.3">k</tspan><tspan dy="-22.3"> = 1,</tspan></text>
<text transform="translate(1433.7 2324.2) scale(0.9806 1)"><tspan font-style="italic">l</tspan><tspan font-style="italic" font-size="34.5" dy="22.3">k</tspan><tspan dy="-22.3"> = 1, </tspan><tspan font-style="italic">S</tspan><tspan font-style="italic" font-size="34.5" dy="22.3">k</tspan><tspan dy="-22.3"> = 2,</tspan></text>
<text transform="translate(1433.7 2416.0) scale(0.9806 1)"><tspan font-style="italic">l</tspan><tspan font-style="italic" font-size="34.5" dy="22.3">k</tspan><tspan dy="-22.3"> = 1, </tspan><tspan font-style="italic">S</tspan><tspan font-style="italic" font-size="34.5" dy="22.3">k</tspan><tspan dy="-22.3"> = 3,</tspan></text>
<text transform="translate(1912.2 2232.2) scale(0.9806 1)"><tspan font-style="italic">l</tspan><tspan font-style="italic" font-size="34.5" dy="22.3">k</tspan><tspan dy="-22.3"> = 2, </tspan><tspan font-style="italic">S</tspan><tspan font-style="italic" font-size="34.5" dy="22.3">k</tspan><tspan dy="-22.3"> = 1,2</tspan></text>
<text transform="translate(1912.2 2324.2) scale(0.9806 1)"><tspan font-style="italic">l</tspan><tspan font-style="italic" font-size="34.5" dy="22.3">k</tspan><tspan dy="-22.3"> = 2, </tspan><tspan font-style="italic">S</tspan><tspan font-style="italic" font-size="34.5" dy="22.3">k</tspan><tspan dy="-22.3"> = 1,3</tspan></text>
<text transform="translate(1912.2 2416.0) scale(0.9806 1)"><tspan font-style="italic">l</tspan><tspan font-style="italic" font-size="34.5" dy="22.3">k</tspan><tspan dy="-22.3"> = 2, </tspan><tspan font-style="italic">S</tspan><tspan font-style="italic" font-size="34.5" dy="22.3">k</tspan><tspan dy="-22.3"> = 2,3</tspan></text>
<text transform="translate(1434.2 2509.0) scale(0.9525 1)">Global CSI</text>
<text transform="translate(1272.2 2581.8) scale(0.9612 1)" xml:space="preserve" style="white-space:pre">Analytic results:  Solid lines</text>
</g>
<rect x="1334.0" y="2195.2" width="36.0" height="36.0" stroke="#000000" stroke-width="4.0" fill="#fff"/>
<path d="M1329.4 2283.2L1332.7 2283.2L1374.0 2324.7L1374.0 2327.9L1370.8 2327.9L1329.4 2286.5ZM1329.4 2324.7L1370.8 2283.2L1374.0 2283.2L1374.0 2286.5L1332.7 2327.9L1329.4 2327.9Z" fill="#ec1c24"/>
<path d="M1351.7 2372.6L1329.3 2411.4L1374.1 2411.4Z" stroke="#2e4da1" stroke-width="4.0" fill="#fff" stroke-linejoin="miter"/>
<path d="M1351.5 2464.7L1357.2 2481.7L1375.2 2481.9L1360.7 2492.6L1366.1 2509.7L1351.5 2499.3L1336.9 2509.7L1342.3 2492.6L1327.8 2481.9L1345.8 2481.7Z" stroke="#7c1317" stroke-width="4.5" fill="#fff" stroke-linejoin="round"/>
<path d="M1855.6 2212.5L1816.8 2190.1L1816.8 2234.9Z" stroke="#bd56a3" stroke-width="4.0" fill="#fff" stroke-linejoin="miter"/>
<path d="M1806.3 2304.5L1845.1 2282.1L1845.1 2326.9Z" stroke="#782b86" stroke-width="4.0" fill="#fff" stroke-linejoin="miter"/>
<path d="M1831.2 2422.9L1808.8 2384.1L1853.6 2384.1Z" stroke="#0d8140" stroke-width="4.0" fill="#fff" stroke-linejoin="miter"/>
</svg></body></html>
